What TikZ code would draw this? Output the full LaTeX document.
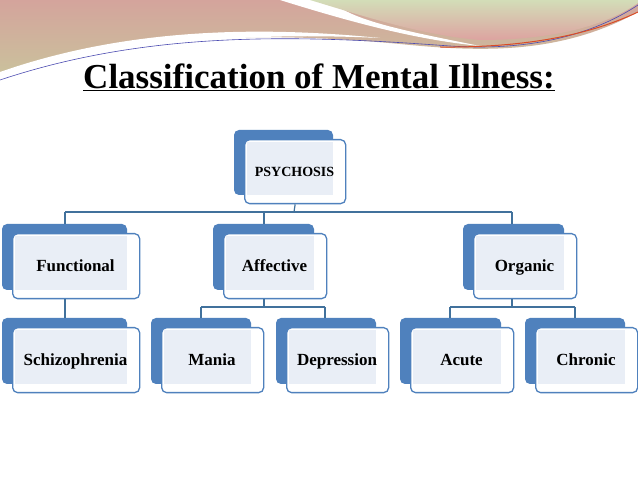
\documentclass[tikz,border=0pt]{standalone}
\usepackage{fontspec}
\setmainfont{Liberation Serif}
\begin{document}
\definecolor{bl}{HTML}{4F81BD}
\definecolor{lb}{HTML}{E9EEF6}
\definecolor{ln}{HTML}{41719C}
\definecolor{pk}{HTML}{D4A49C}
\definecolor{gt}{HTML}{C9C49C}
\definecolor{gr}{HTML}{D3DDB8}
\definecolor{rp}{HTML}{DDA3A0}
\begin{tikzpicture}[x=1pt,y=-1pt,
 front/.style={draw=bl,line width=1.3pt,fill=white,rounded corners=5pt,anchor=north west,inner sep=0pt},
 lab/.style={font=\bfseries\fontsize{17}{17}\selectfont,anchor=base},
 conn/.style={draw=ln,line width=1.2pt}]
\useasboundingbox (0,0) rectangle (638,478);
\fill[white] (0,0) rectangle (638,478);
% top decoration
\shade[top color=pk,bottom color=gt] (0,0) -- (638,0) -- (638,12) .. controls (560,55) and (480,52) .. (400,44) .. controls (250,30) and (120,35) .. (0,82) -- cycle;
\fill[white] (280,0) .. controls (360,25) and (420,40) .. (480,46) .. controls (400,30) and (350,20) .. (330,0) -- cycle;
\shade[top color=gr,bottom color=rp] (310,0) -- (638,0) -- (638,3) .. controls (600,30) and (540,40) .. (480,40) .. controls (420,35) and (360,15) .. (310,0) -- cycle;
\fill[white] (0,72) .. controls (120,30) and (250,25) .. (380,38) .. controls (250,32) and (120,40) .. (0,85) -- cycle;
\draw[blue!40!gray,line width=0.6pt] (0,80) .. controls (150,30) and (300,35) .. (450,46) .. controls (540,52) and (600,30) .. (638,5);
\draw[brown!60!red,line width=1pt] (440,47) .. controls (540,48) and (600,30) .. (638,12);
% title
\node[font=\bfseries\fontsize{35}{35}\selectfont] (title) at (319,77) {\underline{Classification of Mental Illness:}};
\newcommand\bx[7]{%
 \fill[bl,rounded corners=5pt] (#2-10,#3-9) rectangle (#4-12,#5-8);
 \node[front,minimum width={#4-#2},minimum height={#5-#3}] (#1) at (#2,#3) {};
 \fill[lb] (#2+3,#3+3) rectangle (#4-12,#5-8);
 \node[#7] (#1t) at ({(#2+#4)/2},{(#3+#5)/2+6}) {#6};}
\bx{psy}{244}{139}{345}{203}{PSYCHOSIS}{font=\bfseries\fontsize{14}{14}\selectfont,anchor=base}
\bx{fun}{12}{233}{139}{298}{Functional}{lab}
\bx{aff}{223}{233}{326}{298}{Affective}{lab}
\bx{org}{473}{233}{576}{298}{Organic}{lab}
\bx{sch}{12}{327}{139}{392}{Schizophrenia}{lab}
\bx{man}{161}{327}{263}{392}{Mania}{lab}
\bx{dep}{286}{327}{388}{392}{Depression}{lab}
\bx{acu}{410}{327}{513}{392}{Acute}{lab}
\bx{chr}{535}{327}{637}{392}{Chronic}{lab}
% connectors
\coordinate (b1) at (294,212);
\draw[conn] (psy.south) -- (b1);
\draw[conn] (65,212) -- (512,212);
\draw[conn] (65,212) -- (65,224);
\draw[conn] (264,212) -- (264,224);
\draw[conn] (512,212) -- (512,224);
\draw[conn] (fun.south -| 65,0) -- (65,318);
\draw[conn] (aff.south -| 264,0) -- (264,307);
\draw[conn] (201,307) -- (325,307);
\draw[conn] (201,307) -- (201,318);
\draw[conn] (325,307) -- (325,318);
\draw[conn] (org.south -| 512,0) -- (512,307);
\draw[conn] (450,307) -- (575,307);
\draw[conn] (450,307) -- (450,318);
\draw[conn] (575,307) -- (575,318);
\end{tikzpicture}
\end{document}
